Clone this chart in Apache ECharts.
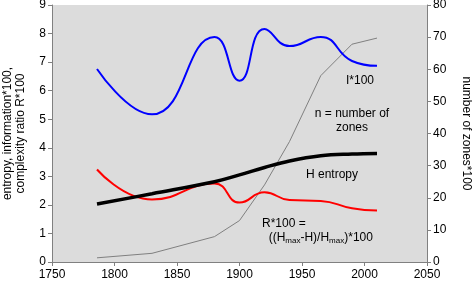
<!DOCTYPE html>
<html>
<head>
<meta charset="utf-8">
<script src="https://cdn.jsdelivr.net/npm/echarts@6/dist/echarts.min.js"></script>
<style>
  html, body { margin: 0; padding: 0; background: #fff; }
  #chart { width: 473px; height: 285px; }
</style>
</head>
<body>
<div id="chart"></div>
<script>
// years of the observations
const years = [1786, 1830, 1880, 1900, 1920, 1940, 1965, 1990, 2010];
// I*100 (information)
const info = [6.76, 5.17, 7.88, 6.35, 8.16, 7.56, 7.88, 7.04, 6.87];
// H entropy
const entropy = [2.03, 2.39, 2.81, 3.05, 3.31, 3.54, 3.72, 3.78, 3.80];
// R*100 complexity ratio
const ratio = [3.24, 2.19, 2.75, 2.08, 2.44, 2.17, 2.14, 1.88, 1.80];
// number of zones*100 (right axis)
const zones = [1.3, 2.7, 7.9, 12.9, 24, 37.5, 58, 67.8, 69.7];

const pairs = vals => years.map((y, i) => [y, vals[i]]);

const chart = echarts.init(document.getElementById('chart'));
const font = 'Liberation Sans, Arial, sans-serif';
const txt = { color: '#000', fontSize: 12, fontFamily: font };

const option = {
  animation: false,
  grid: {
    left: 52, right: 46, top: 5, bottom: 23,
    containLabel: false, outerBoundsMode: 'none',
    show: true, backgroundColor: '#dcdcdc', borderWidth: 0
  },
  xAxis: {
    type: 'value', min: 1750, max: 2050, interval: 50,
    axisLine: { show: true, lineStyle: { color: '#808080' } },
    axisTick: { show: true, length: 4, lineStyle: { color: '#808080' } },
    axisLabel: Object.assign({ margin: 7, formatter: v => String(v) }, txt),
    splitLine: { show: false }
  },
  yAxis: [
    {
      type: 'value', min: 0, max: 9, interval: 1,
      name: 'entropy, information*100,\ncomplexity ratio R*100',
      nameLocation: 'middle', nameGap: 25, nameRotate: 90,
      nameTextStyle: Object.assign({ lineHeight: 13 }, txt),
      axisLine: { show: true, lineStyle: { color: '#808080' } },
      axisTick: { show: true, length: 4, lineStyle: { color: '#808080' } },
      axisLabel: Object.assign({ margin: 6 }, txt),
      splitLine: { show: false }
    },
    {
      type: 'value', min: 0, max: 80, interval: 10,
      name: 'number of zones*100',
      nameLocation: 'middle', nameGap: 33, nameRotate: -90,
      nameTextStyle: txt,
      axisLine: { show: true, lineStyle: { color: '#808080' } },
      axisTick: { show: true, length: 4, lineStyle: { color: '#808080' } },
      axisLabel: Object.assign({ margin: 6 }, txt),
      splitLine: { show: false }
    }
  ],
  series: [
    {
      name: 'n', type: 'line', yAxisIndex: 1, data: pairs(zones),
      showSymbol: false, lineStyle: { color: '#808080', width: 1 }
    },
    {
      name: 'I*100', type: 'line', data: pairs(info), smooth: 0.5,
      showSymbol: false, lineStyle: { color: '#0000ff', width: 2 }
    },
    {
      name: 'R*100', type: 'line', data: pairs(ratio), smooth: 0.5,
      showSymbol: false, lineStyle: { color: '#ff0000', width: 2 }
    },
    {
      name: 'H', type: 'line', data: pairs(entropy), smooth: 0.4,
      showSymbol: false, lineStyle: { color: '#000000', width: 3.5 }
    }
  ],
  graphic: [
    { type: 'text', x: 360, y: 81, style: Object.assign({ text: 'I*100', align: 'center', verticalAlign: 'middle' }, txt) },
    { type: 'text', x: 352, y: 121, style: Object.assign({ text: 'n = number of\nzones', align: 'center', verticalAlign: 'middle', lineHeight: 14 }, txt) },
    { type: 'text', x: 332, y: 175, style: Object.assign({ text: 'H entropy', align: 'center', verticalAlign: 'middle' }, txt) },
    {
      type: 'text', x: 262, y: 217,
      style: {
        text: 'R*100 =\n  ((H{s|max}-H)/H{s|max})*100',
        fontSize: 12, fontFamily: font, fill: '#000', lineHeight: 14,
        rich: { s: { fontSize: 8, fontFamily: font, fill: '#000', padding: [6, 0, 0, 0] } }
      }
    }
  ]
};

chart.setOption(option);
</script>
</body>
</html>
